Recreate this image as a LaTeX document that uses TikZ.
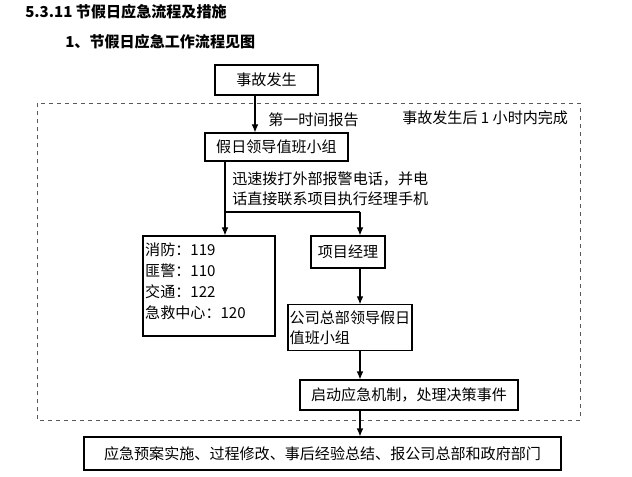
\documentclass[tikz,border=0pt]{standalone}
\usepackage{fontspec}
\setmainfont{Liberation Serif}
\newfontfamily\cjk{Noto Sans CJK SC}
\usetikzlibrary{arrows.meta}
\begin{document}
\begin{tikzpicture}[x=0.75pt,y=-0.75pt,
 bx/.style={draw,thick,inner sep=0.5pt,font=\cjk\fontsize{11.3}{15}\selectfont},
 lbl/.style={inner sep=0pt,font=\cjk\fontsize{11.3}{15}\selectfont},
 arr/.style={thick,-{Latex[length=6pt,width=5pt]}}]
\useasboundingbox (0,0) rectangle (632,477);
\node[lbl,anchor=west,font=\cjk\bfseries\fontsize{11.3}{13}\selectfont] (t1) at (25,12) {5.3.11 节假日应急流程及措施};
\node[lbl,anchor=west,font=\cjk\bfseries\fontsize{11.3}{13}\selectfont] (t2) at (65,42) {1、节假日应急工作流程见图};
\draw[dashed,gray!70!black] (37,103) rectangle (580,420);
\node[bx,minimum width=77.25pt,minimum height=22.5pt] (a) at (266.5,80) {事故发生};
\node[bx,minimum width=107.25pt,minimum height=21pt] (b) at (276.5,147) {假日领导值班小组};
\node[lbl,anchor=west] (r1) at (268,120) {第一时间报告};
\node[lbl,anchor=west] (r2) at (402,118) {事故发生后 1 小时内完成};
\node[lbl,anchor=north west,align=left] (r3) at (232,172) {迅速拨打外部报警电话，并电\\话直接联系项目执行经理手机};
\node[bx,minimum width=99pt,minimum height=75pt] (c) at (209,286) {};
\node[lbl,anchor=north west,align=left,font=\cjk\fontsize{11.3}{15.8}\selectfont] (ct) at ([yshift=-5pt]c.north west) {\,消防：119\\\,匪警：110\\\,交通：122\\\,急救中心：120};
\node[bx,minimum width=55.5pt,minimum height=24pt] (d) at (348,252) {项目经理};
\node[bx,minimum width=93pt,minimum height=34pt,align=left] (e) at (350,327.5) {公司总部领导假日\\值班小组};
\node[bx,minimum width=163.5pt,minimum height=22.5pt] (f) at (409,395) {启动应急机制，处理决策事件};
\node[bx,minimum width=357.75pt,minimum height=24.75pt] (g) at (322.5,453.5) {应急预案实施、过程修改、事后经验总结、报公司总部和政府部门};
\coordinate (s1) at (225,212);
\coordinate (s2) at (360,212);
\draw[arr] (a.south -| 255,0) -- (b.north -| 255,0);
\draw[arr] (b.south -| s1) -- (c.north -| s1);
\draw[thick] (s1) -- (s2);
\draw[arr] (s2) -- (d.north -| s2);
\draw[arr] (d.south -| s2) -- (e.north -| s2);
\draw[arr] (e.south -| s2) -- (f.north -| s2);
\draw[arr] (f.south -| s2) -- (g.north -| s2);
\end{tikzpicture}
\end{document}
